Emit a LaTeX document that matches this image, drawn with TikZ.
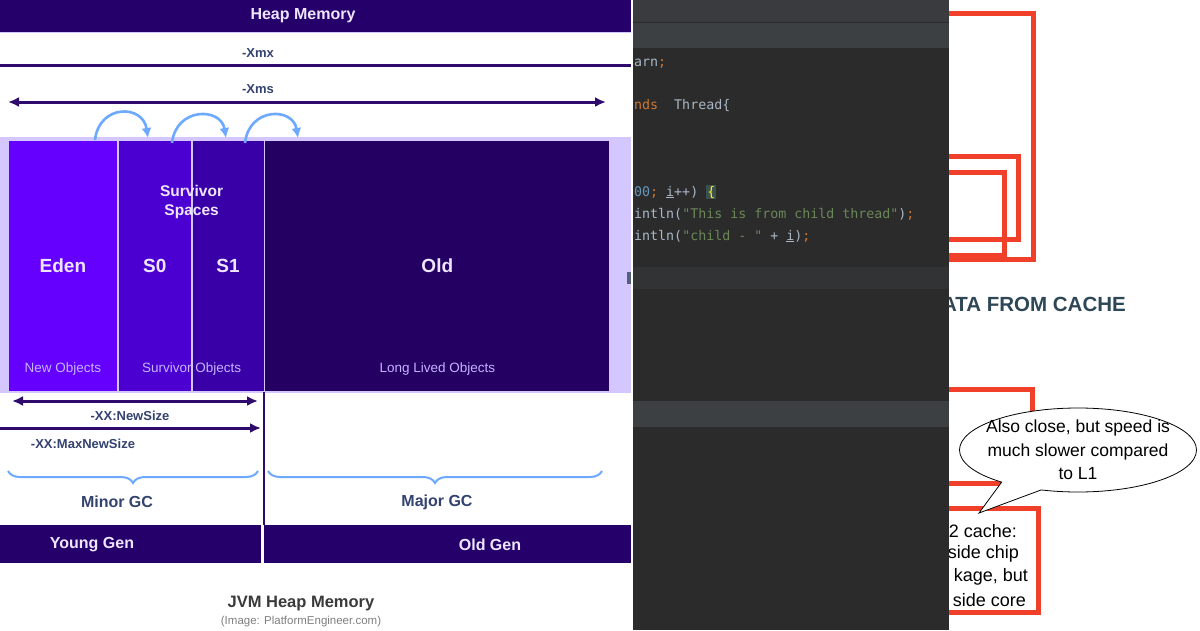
\documentclass[tikz,border=0pt]{standalone}
\usepackage{fontspec}
\setmainfont{Liberation Sans}
\setmonofont{DejaVu Sans Mono}
\usetikzlibrary{arrows.meta, positioning, shapes.callouts, decorations.pathreplacing}

\definecolor{heapband}{HTML}{25006B}
\definecolor{edenc}{HTML}{6500FF}
\definecolor{szero}{HTML}{4B00D1}
\definecolor{sone}{HTML}{3A00A8}
\definecolor{oldc}{HTML}{230061}
\definecolor{lavender}{HTML}{D4C7FF}
\definecolor{paletext}{HTML}{EEE6FF}
\definecolor{subtext}{HTML}{C4B4FF}
\definecolor{dimpurple}{HTML}{300B6E}
\definecolor{dimtext}{HTML}{34426F}
\definecolor{gcblue}{HTML}{6DA9FF}
\definecolor{captiongray}{HTML}{3A3A3A}
\definecolor{idebg}{HTML}{2B2B2B}
\definecolor{idetab}{HTML}{393B3E}
\definecolor{idebar}{HTML}{3D4043}
\definecolor{idegutter}{HTML}{313335}
\definecolor{codegray}{HTML}{A9B7C6}
\definecolor{kwor}{HTML}{CC7832}
\definecolor{kwnum}{HTML}{6897BB}
\definecolor{kwstr}{HTML}{6A8759}
\definecolor{braceyel}{HTML}{FFEF28}
\definecolor{bracebg}{HTML}{3B514D}
\definecolor{cachered}{HTML}{F0402A}
\definecolor{cachetitle}{HTML}{2E4756}
\definecolor{scrollmark}{HTML}{55607F}

\newcommand{\pxfont}[2]{\fontsize{#1}{#2}\selectfont}

\begin{document}
\begin{tikzpicture}[
        x=1pt, y=-1pt,
        zone/.style={draw=lavender, line width=0.8pt, fill=#1, anchor=north west, inner sep=0pt, minimum height=251pt, text=paletext, font=\bfseries\pxfont{19}{22}},
        heading/.style={inner sep=0pt, text=paletext, font=\bfseries\pxfont{16}{19}},
        optlabel/.style={inner sep=0pt, text=dimtext, font=\bfseries\pxfont{13}{15}},
        objlabel/.style={inner sep=0pt, text=subtext, font=\pxfont{13.5}{16}},
        gclabel/.style={inner sep=0pt, text=dimtext, font=\bfseries\pxfont{16}{19}},
        sizeline/.style={draw=dimpurple, line width=3pt},
        sizearrow/.style={sizeline, -{Latex[length=11pt,width=10pt]}},
        sizearrows/.style={sizeline, {Latex[length=11pt,width=10pt]}-{Latex[length=11pt,width=10pt]}},
        hop/.style={draw=gcblue, line width=2.6pt, -{Latex[length=10pt,width=10pt]}},
        gcbrace/.style={draw=gcblue, line width=2pt, decorate, decoration={brace, amplitude=12pt}},
        genband/.style={fill=heapband, anchor=north west, inner sep=0pt, minimum height=38pt},
        codeline/.style={anchor=base west, inner sep=0pt, text=codegray, font=\ttfamily\pxfont{13.3}{15}},
        redframe/.style={draw=cachered, line width=5pt},
        cachetext/.style={anchor=east, inner sep=0pt, font=\pxfont{18}{21}}
    ]
    \useasboundingbox (0,0) rectangle (1200,630);

    % JVM heap panel
    \fill[white] (0,0) rectangle (633,630);
    \node[fill=heapband, inner sep=0pt, minimum width=631pt, minimum height=32pt, anchor=north west] (heapbar) at (0,0) {};
    \draw[lavender, line width=1pt] (heapbar.south west) -- (heapbar.south east);
    \node[heading] (heaptitle) at (303,16) {Heap Memory};

    \coordinate (xmxL) at (0,65);
    \coordinate (xmxR) at (631,65);
    \draw[sizeline] (xmxL) -- (xmxR);
    \node[optlabel] (xmx) at (258,53) {-Xmx};
    \coordinate (xmsL) at (8,102);
    \coordinate (xmsR) at (606,102);
    \draw[sizearrows] (xmsL) -- (xmsR);
    \node[optlabel] (xms) at (258,89) {-Xms};

    \fill[lavender] (0,137) rectangle (631,393);
    \fill[scrollmark] (627,272) rectangle (631,284);
    \node[zone=edenc, minimum width=109pt] (eden) at (8,140) {Eden};
    \node[zone=szero, minimum width=73pt, right=0pt of eden] (s0) {S0};
    \node[zone=sone, minimum width=72pt, right=0pt of s0] (s1) {S1};
    \node[zone=oldc, minimum width=345pt, right=0pt of s1] (old) {Old};
    \node[heading, align=center, font=\bfseries\pxfont{15.5}{19}] (survivor) at ([yshift=-62pt]s0.north east) {Survivor\\Spaces};
    \node[objlabel] (newobj) at ([yshift=23pt]eden.south) {New Objects};
    \node[objlabel] (survobj) at ([yshift=23pt]s0.south east) {Survivor Objects};
    \node[objlabel] (longobj) at ([yshift=23pt]old.south) {Long Lived Objects};

    \coordinate (hopA) at (95,140);
    \coordinate (hopB) at (148,138);
    \coordinate (hopC) at (172,143);
    \coordinate (hopD) at (226,138);
    \coordinate (hopE) at (245,143);
    \coordinate (hopF) at (298,138);
    \draw[hop] (hopA) .. controls (99,104) and (143,104) .. (hopB);
    \draw[hop] (hopC) .. controls (176,107) and (221,107) .. (hopD);
    \draw[hop] (hopE) .. controls (249,107) and (293,107) .. (hopF);

    \node[genband, minimum width=261pt] (younggen) at (0,525) {};
    \node[genband, minimum width=367pt] (oldgen) at (264,525) {};
    \node[heading] (younglabel) at (92,545) {Young Gen};
    \node[heading] (oldlabel) at (490,545) {Old Gen};
    \draw[dimpurple, line width=2pt] (s1.south east) -- (s1.south east |- younggen.north);

    \coordinate (nsL) at (12,401);
    \coordinate (nsR) at (258,401);
    \draw[sizearrows] (nsL) -- (nsR);
    \node[optlabel] (newsize) at (130,416) {-XX:NewSize};
    \coordinate (mnsL) at (0,428);
    \coordinate (mnsR) at (261,428);
    \draw[sizearrow] (mnsL) -- (mnsR);
    \node[optlabel] (maxnewsize) at (83,444) {-XX:MaxNewSize};

    \draw[gcbrace] (258,471) -- (8,471);
    \draw[gcbrace] (602,471) -- (268,471);
    \node[gclabel] (minorgc) at (117,502) {Minor GC};
    \node[gclabel] (majorgc) at (437,502) {Major GC};

    \node[inner sep=0pt, text=captiongray, font=\bfseries\pxfont{16.5}{19}] (caption) at (301,604) {JVM Heap Memory};
    \node[inner sep=0pt, text=gray, font=\pxfont{11.5}{13}, below=4pt of caption] (credit) {(Image: PlatformEngineer.com)};

    % IDE panel
    \begin{scope}
        \clip (633,0) rectangle (949,630);
        \fill[idebg] (633,0) rectangle (949,630);
        \fill[idetab] (633,0) rectangle (949,22);
        \fill[idebar] (633,23) rectangle (949,48);
        \fill[idegutter] (633,267) rectangle (949,289);
        \fill[idebar] (633,401) rectangle (949,427);
        \node[codeline] (code1) at (634,66) {arn\textcolor{kwor}{;}};
        \node[codeline] (code2) at (634,109) {\textcolor{kwor}{nds}~~Thread\{};
        \node[codeline] (code3) at (634,196) {\textcolor{kwnum}{00}\textcolor{kwor}{;} \underline{i}++) {\fboxsep=1pt\colorbox{bracebg}{\textcolor{braceyel}{\{}}}};
        \node[codeline] (code4) at (634,218) {intln(\textcolor{kwstr}{\textquotedbl This is from child thread\textquotedbl})\textcolor{kwor}{;}};
        \node[codeline] (code5) at (634,240) {intln(\textcolor{kwstr}{\textquotedbl child - \textquotedbl}~+~\underline{i})\textcolor{kwor}{;}};
    \end{scope}

    % cache panel
    \begin{scope}
        \clip (949,0) rectangle (1200,630);
        \fill[white] (949,0) rectangle (1200,630);
        \draw[redframe] (949,13) -| (1033,259) -- (949,259);
        \draw[redframe] (949,156) -| (1018,239) -- (949,239);
        \draw[redframe] (949,172) -| (1004,255) -- (949,255);
        \draw[redframe] (949,389) -| (1032,483) -- (949,483);
        \draw[redframe] (949,508) -| (1038,612) -- (949,612);
        \node[anchor=east, inner sep=0pt, text=cachetitle, font=\bfseries\pxfont{20.5}{24}] (cachehead) at (1126,304) {ATA FROM CACHE};
        \node[cachetext] (ltwo1) at (1017,531) {2 cache:};
        \node[cachetext] (ltwo2) at (1019,554) {side chip};
        \node[cachetext] (ltwo3) at (1028,577) {kage, but};
        \node[cachetext] (ltwo4) at (1026,600) {side core};
        \node[ellipse callout, draw=black, line width=0.8pt, fill=white, minimum width=237pt, minimum height=84pt, callout absolute pointer={(979,513)}, callout pointer arc=22] (bubble) at (1078,450) {};
        \node[align=center, inner sep=0pt, font=\pxfont{17.5}{23.5}] (bubbletext) at (bubble.center) {Also close, but speed is\\much slower compared\\to L1};
    \end{scope}
\end{tikzpicture}
\end{document}
